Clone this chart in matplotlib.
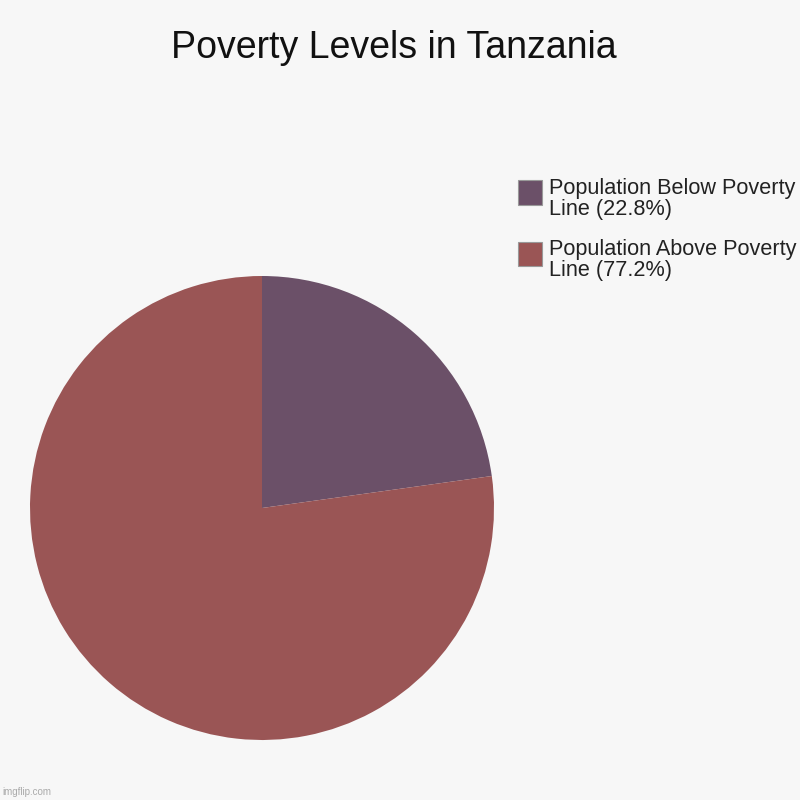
import matplotlib
matplotlib.use("Agg")
import matplotlib.pyplot as plt
from matplotlib.patches import Rectangle

title = "Poverty Levels in Tanzania"
labels = ["Population Below Poverty\nLine (22.8%)", "Population Above Poverty\nLine (77.2%)"]
values = [22.8, 77.2]
colors = ["#6b5068", "#9a5555"]
bg = "#f7f7f7"

plt.rcParams['font.family'] = ['Liberation Sans', 'DejaVu Sans']
fig = plt.figure(figsize=(8, 8), dpi=100, facecolor=bg)
fig.text(0.4925, 0.94, title, ha="center", va="center", fontsize=27, color="#111111")

ax = fig.add_axes([0.0375, 0.075, 0.58, 0.58])
ax.set_facecolor(bg)
ax.pie(values, colors=colors, startangle=90, counterclock=False,
       wedgeprops=dict(linewidth=0))
ax.set_xlim(-1, 1)
ax.set_ylim(-1, 1)
ax.set_aspect("equal")
ax.axis("off")

ys = [0.744, 0.667]
for lab, col, y in zip(labels, colors, ys):
    fig.patches.append(Rectangle((0.648, y), 0.03, 0.031, transform=fig.transFigure,
                                 facecolor=col, edgecolor="#999999", linewidth=0.8))
    fig.text(0.686, y + 0.034, lab, ha="left", va="top", fontsize=15.6,
             color="#222222", linespacing=1.0)

fig.text(0.003, 0.004, "imgflip.com", fontsize=7, color="#aaaaaa", ha="left", va="bottom")
fig.savefig("out.png", dpi=100, facecolor=bg)
